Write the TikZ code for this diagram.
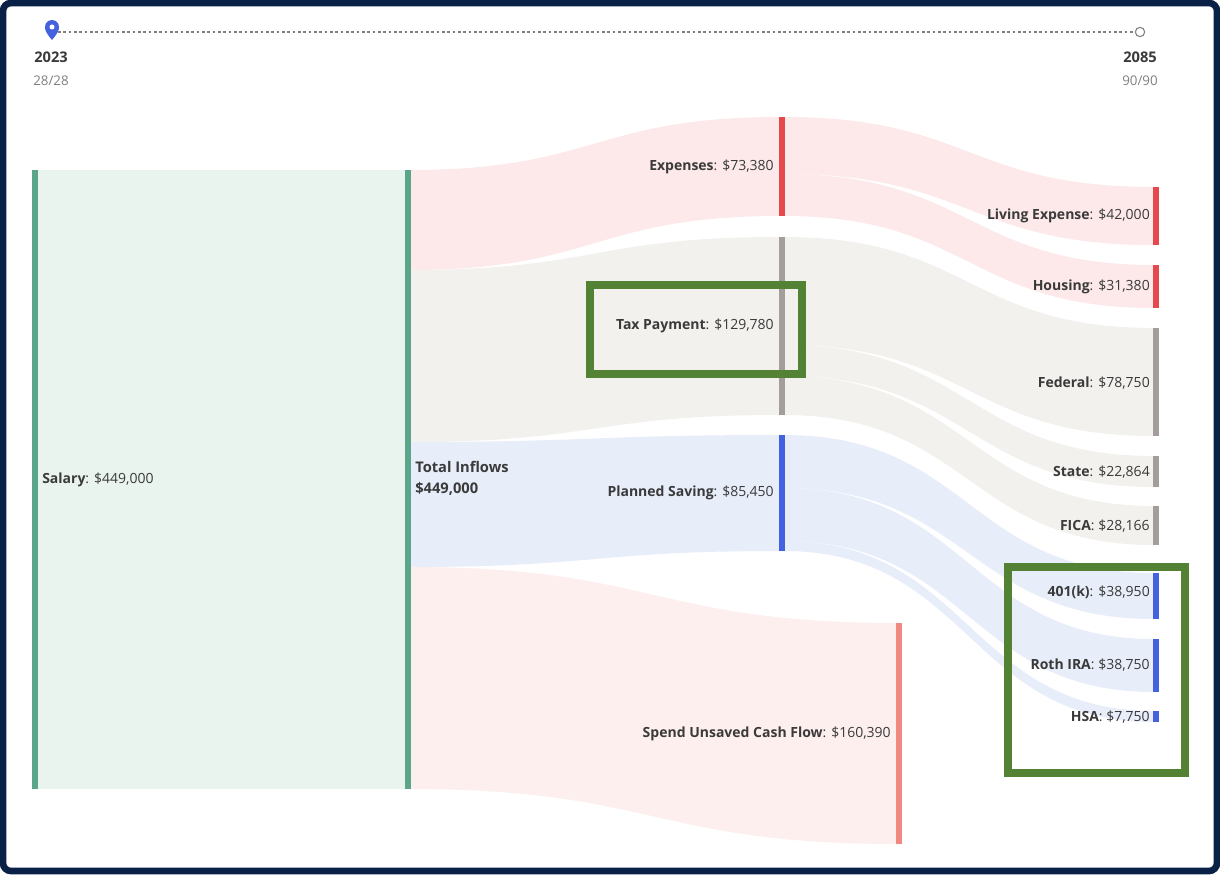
\documentclass[tikz,border=0pt]{standalone}
\usepackage{fontspec}
\setmainfont{Open Sans}
\usetikzlibrary{calc}
\definecolor{navy}{HTML}{0A2147}
\definecolor{fexp}{HTML}{FDE9EA}
\definecolor{ftax}{HTML}{F2F1EE}
\definecolor{fsav}{HTML}{E8EDFA}
\definecolor{fspd}{HTML}{FCEFEE}
\definecolor{fsal}{HTML}{EAF4EF}
\definecolor{bgrn}{HTML}{5BA68A}
\definecolor{bred}{HTML}{E5484D}
\definecolor{bgry}{HTML}{A39E9B}
\definecolor{bblu}{HTML}{4461E0}
\definecolor{bsal}{HTML}{F08A80}
\definecolor{hgrn}{HTML}{548235}
\definecolor{txt}{HTML}{3A3A3A}
\newcommand\flowband[7]{\fill[#1] (#2,#3) .. controls ({(#2+#5)/2},#3) and ({(#2+#5)/2},#6) .. (#5,#6) -- (#5,#7) .. controls ({(#2+#5)/2},#7) and ({(#2+#5)/2},#4) .. (#2,#4) -- cycle;}
\begin{document}
\begin{tikzpicture}[x=0.75pt,y=-0.75pt,
  lbl/.style={font=\fontsize{10.5}{12}\selectfont, text=txt, anchor=east, inner sep=0pt},
  bar/.style={line width=4.5pt},
  hbox/.style={draw=hgrn, line width=6pt},
  yr/.style={font=\bfseries\fontsize{11}{13}\selectfont, text=txt, inner sep=0pt},
  ag/.style={font=\fontsize{10}{12}\selectfont, text=gray, inner sep=0pt}]
\useasboundingbox (0,0) rectangle (1220,874);
\fill[white] (0,0) rectangle (1220,874);
% timeline
\draw[gray, line width=0.8pt, dash pattern=on 2pt off 2pt] (58,32) -- (1136,32);
\node[circle, draw=gray, fill=white, line width=0.8pt, inner sep=0pt, minimum size=7pt] (end) at (1140,32) {};
\fill[bblu] (52,40) .. controls (46,33) and (45,30) .. (45,27) arc[start angle=180, end angle=360, radius=7] .. controls (59,30) and (58,33) .. (52,40) -- cycle;
\fill[white] (52,27) circle (2.5);
\node[yr] (y1) at (51,57) {2023};
\node[ag] (a1) at (51,81) {28/28};
\node[yr] (y2) at (1140,57) {2085};
\node[ag] (a2) at (1140,81) {90/90};
% first level
\fill[fsal] (35,170) rectangle (408,789);
\flowband{fexp}{410}{170}{270}{780}{117}{216}
\flowband{ftax}{410}{270}{442}{780}{237}{415}
\flowband{fsav}{410}{442}{567}{780}{435}{551}
\flowband{fspd}{410}{567}{789}{898}{623}{844}
% second level
\flowband{fexp}{784}{117}{174}{1154}{187}{245}
\flowband{fexp}{784}{174}{216}{1154}{265}{308}
\flowband{ftax}{784}{237}{345}{1154}{328}{436}
\flowband{ftax}{784}{345}{376}{1154}{456}{487}
\flowband{ftax}{784}{376}{415}{1154}{506}{545}
\flowband{fsav}{784}{435}{488}{1154}{573}{619}
\flowband{fsav}{784}{488}{541}{1154}{639}{692}
\flowband{fsav}{784}{541}{551}{1154}{711}{722}
% bars
\draw[bar, bgrn] (35,170) -- (35,789);
\draw[bar, bgrn] (408,170) -- (408,789);
\draw[bar, bred] (782,117) -- (782,216);
\draw[bar, bgry] (782,237) -- (782,415);
\draw[bar, bblu] (782,435) -- (782,551);
\draw[bar, bsal] (899,623) -- (899,844);
\draw[bar, bred] (1156,187) -- (1156,245);
\draw[bar, bred] (1156,265) -- (1156,308);
\draw[bar, bgry] (1156,328) -- (1156,436);
\draw[bar, bgry] (1156,456) -- (1156,487);
\draw[bar, bgry] (1156,506) -- (1156,545);
\draw[bar, bblu] (1156,573) -- (1156,619);
\draw[bar, bblu] (1156,639) -- (1156,692);
\draw[bar, bblu] (1156,711) -- (1156,722);
% labels
\node[lbl, anchor=west] (sal) at (42,480) {\textbf{Salary}: \$449,000};
\node[lbl, anchor=north west, align=left, font=\fontsize{11}{16}\selectfont] (tot) at (415,461) {\textbf{Total Inflows}\\\textbf{\$449,000}};
\node[lbl] (exp) at (774,167) {\textbf{Expenses}: \$73,380};
\node[lbl] (tax) at (774,326) {\textbf{Tax Payment}: \$129,780};
\node[lbl] (sav) at (774,493) {\textbf{Planned Saving}: \$85,450};
\node[lbl] (spd) at (891,734) {\textbf{Spend Unsaved Cash Flow}: \$160,390};
\node[lbl] (liv) at (1150,216) {\textbf{Living Expense}: \$42,000};
\node[lbl] (hou) at (1150,287) {\textbf{Housing}: \$31,380};
\node[lbl] (fed) at (1150,383) {\textbf{Federal}: \$78,750};
\node[lbl] (sta) at (1150,472) {\textbf{State}: \$22,864};
\node[lbl] (fic) at (1150,526) {\textbf{FICA}: \$28,166};
\node[lbl] (k401) at (1150,592) {\textbf{401(k)}: \$38,950};
\node[lbl] (roth) at (1150,665) {\textbf{Roth IRA}: \$38,750};
\node[lbl] (hsa) at (1150,717) {\textbf{HSA}: \$7,750};
% highlight boxes
\draw[hbox] (590,285) rectangle (802,374);
\draw[hbox] (1008,567) rectangle (1185,773);
% frame
\draw[navy, line width=5pt, rounded corners=6pt] (3,3) rectangle (1217,871);
\end{tikzpicture}
\end{document}
